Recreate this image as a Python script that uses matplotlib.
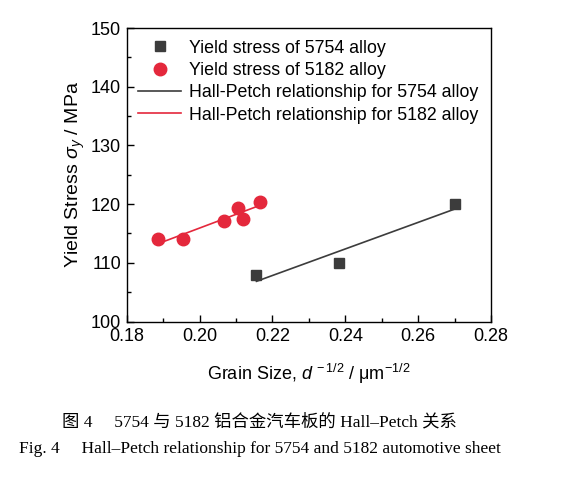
import numpy as np
import matplotlib
matplotlib.use('Agg')
from matplotlib import pyplot as plt

# data
d_5754 = [0.2156, 0.2383, 0.2701]
ys_5754 = [108.0, 110.0, 120.0]
d_5182 = [0.1886, 0.1955, 0.2066, 0.2104, 0.2118, 0.2165]
ys_5182 = [114.0, 114.0, 117.2, 119.3, 117.5, 120.4]

legend_labels = ['Yield stress of 5754 alloy', 'Yield stress of 5182 alloy',
                 'Hall-Petch relationship for 5754 alloy', 'Hall-Petch relationship for 5182 alloy']
caption_cn = '图 4\u2003 5754 与 5182 铝合金汽车板的 Hall\u2013Petch 关系'
caption_en = 'Fig. 4\u2003 Hall\u2013Petch relationship for 5754 and 5182 automotive sheet'

plt.rcParams['font.family'] = ['Liberation Sans', 'DejaVu Sans']
plt.rcParams['mathtext.fontset'] = 'custom'
plt.rcParams['mathtext.rm'] = 'Liberation Sans'
plt.rcParams['mathtext.it'] = 'Liberation Sans:italic'

black = '#3c3c3c'
red = '#e4283c'

fig = plt.figure(figsize=(5.71, 4.78), dpi=100)
ax = fig.add_axes([0.222, 0.3274, 0.638, 0.614])

# linear fits (Hall-Petch)
k1, b1 = np.polyfit(d_5754, ys_5754, 1)
k2, b2 = np.polyfit(d_5182, ys_5182, 1)
x1 = np.array([min(d_5754), max(d_5754)])
x2 = np.array([min(d_5182), max(d_5182)])

h1, = ax.plot(d_5754, ys_5754, 's', color=black, ms=7.5, ls='none')
h2, = ax.plot(d_5182, ys_5182, 'o', color=red, ms=9, ls='none')
h3, = ax.plot(x1, k1 * x1 + b1, '-', color=black, lw=1.2)
h4, = ax.plot(x2, k2 * x2 + b2, '-', color=red, lw=1.2)

ax.set_xlim(0.18, 0.28)
ax.set_ylim(100, 150)
ax.set_xticks(np.arange(0.18, 0.281, 0.02))
ax.set_xticks(np.arange(0.19, 0.28, 0.02), minor=True)
ax.set_yticks(np.arange(100, 151, 10))
ax.set_yticks(np.arange(105, 150, 10), minor=True)
ax.set_xticklabels(['%.2f' % v for v in np.arange(0.18, 0.281, 0.02)])
ax.tick_params(which='both', direction='in', labelsize=13, width=1)
ax.tick_params(which='major', length=5)
ax.tick_params(which='minor', length=3)
ax.tick_params(axis='x', pad=5)
ax.tick_params(axis='y', pad=4)
for s in ax.spines.values():
    s.set_linewidth(1)

ax.set_xlabel('Grain Size, $d^{\\,-1/2}$ / μm$^{-1/2}$', fontsize=13, labelpad=12)
ax.set_ylabel('Yield Stress $\\sigma_y$ / MPa', fontsize=14, labelpad=3)

ax.legend([h1, h2, h3, h4], legend_labels, loc='upper left', frameon=False,
          fontsize=12.8, handlelength=2.4, handletextpad=0.45, labelspacing=0.3,
          borderaxespad=0.25, bbox_to_anchor=(0.0, 1.0))

serif = ['Liberation Serif', 'Noto Sans CJK SC']
fig.text(0.455, 1 - 422 / 478, caption_cn, ha='center', va='center', fontsize=12.5, family=serif)
fig.text(0.455, 1 - 449 / 478, caption_en, ha='center', va='center', fontsize=12.5, family=serif)

fig.savefig('out.png', dpi=100)
